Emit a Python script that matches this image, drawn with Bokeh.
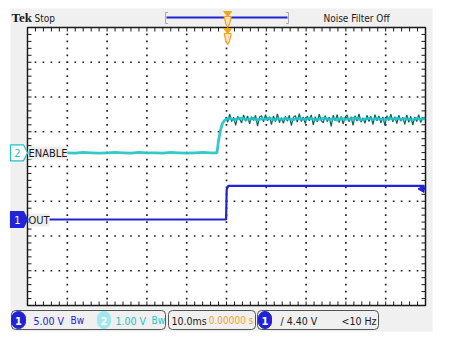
import numpy as np
from bokeh.plotting import figure
from bokeh.models import Range1d, Label, BoxAnnotation
from bokeh.embed import file_html
from bokeh.resources import INLINE

# ---------------- data ----------------
time_per_div_ms = 10.0
ch1_volts_per_div = 5.0
ch2_volts_per_div = 1.0
trigger_level_v = 4.40
trigger_time_ms = 0.3

# ENABLE (CH2) low level before the edge
enable_lo_t = [-50, -48, -46, -44, -42, -40, -38, -36, -34, -32, -30, -28,
               -26, -24, -22, -20, -18, -16, -14, -12, -10, -8, -6, -4]
enable_lo_v = [0.00, 0.01, -0.01, 0.00, 0.01, 0.00, -0.01, 0.01, 0.00, -0.01, 0.00, 0.01,
               0.00, -0.01, 0.01, 0.00, 0.00, -0.01, 0.01, 0.00, -0.01, 0.00, 0.01, 0.00]
# rising edge
enable_rise_t = [-2.4, -2.0, -1.5, -1.0, -0.5, -0.2]
enable_rise_v = [0.00, 0.35, 0.66, 0.85, 0.93, 0.96]
# high level, bright band (1 ms samples from -0.2 ms)
enable_band_v = [0.96, 0.99, 0.95, 0.98, 1.00, 0.96, 0.97, 0.99, 0.94, 0.98,
                 0.97, 1.00, 0.95, 0.98, 0.96, 0.99, 0.97, 0.95, 0.99, 0.98,
                 0.96, 1.00, 0.97, 0.95, 0.98, 0.99, 0.96, 0.98, 0.94, 0.99,
                 0.97, 0.96, 1.00, 0.98, 0.95, 0.97, 0.99, 0.96, 0.98, 0.97,
                 0.95, 0.99, 0.97, 1.00, 0.96, 0.98, 0.97, 0.95, 0.99, 0.97, 0.98]
# high level, noise spikes (0.5 ms samples from -0.2 ms)
enable_noise_v = [1.03, 0.88, 1.11, 0.90, 1.02, 0.79, 1.05, 0.97, 0.86, 1.09,
                  0.91, 1.06, 0.83, 1.04, 0.93, 1.08, 0.77, 1.03, 1.07, 0.89,
                  1.10, 0.92, 1.04, 0.81, 1.06, 0.90, 1.12, 0.87, 1.01, 0.85,
                  1.05, 0.91, 1.08, 0.78, 1.02, 1.07, 0.88, 1.13, 0.90, 1.03,
                  0.84, 1.06, 0.92, 1.09, 0.80, 1.04, 0.89, 1.11, 0.93, 0.86,
                  1.07, 0.90, 1.03, 0.76, 1.08, 0.92, 1.10, 0.87, 1.05, 0.83,
                  1.02, 1.09, 0.89, 1.04, 0.79, 1.07, 0.91, 1.12, 0.88, 1.01,
                  0.85, 1.08, 0.90, 1.05, 0.81, 1.10, 0.92, 1.06, 0.86, 1.03,
                  0.78, 1.07, 0.93, 1.11, 0.89, 1.04, 0.84, 1.08, 0.91, 1.02,
                  0.82, 1.09, 0.88, 1.05, 0.80, 1.03, 0.90, 1.10, 0.87, 1.01, 0.96]
# OUT (CH1)
out_t = [-50.0, -0.1, 0.05, 0.45, 49.7]
out_v = [0.0, 0.0, 4.30, 4.85, 4.85]

status_ch1 = "5.00 V"
status_ch2 = "1.00 V"
status_time = "10.0ms"
status_delay = "0.00000 s"
status_trig = "/ 4.40 V"
status_freq = "<10 Hz"

# ---------------- geometry ----------------
W, H = 459, 354
GL, GR, GT, GB = 27, 425, 27, 305
XC = (GL + GR) / 2.0
PXMS = (GR - GL) / (10 * time_per_div_ms)
YC = (GT + GB) / 2.0
PXDIV = (GB - GT) / 8.0


def X(px):
    return (px - XC) / PXMS


def Y(py):
    return (YC - py) / PXDIV


ch1_pos = Y(219)
ch2_pos = Y(152.3)


def ch1(vs):
    return [v / ch1_volts_per_div + ch1_pos for v in vs]


def ch2(vs):
    return [v / ch2_volts_per_div + ch2_pos for v in vs]


NARROW = "DejaVu Sans Condensed"
BLUE = "#2222d6"
CYAN = "#1fc3c6"
DARKTEAL = "#0a5f60"
ORANGE = "#f5a21e"
GRAY = "#f0f0f0"
INK = "#1a1a1a"

p = figure(width=W, height=H, x_range=Range1d(X(0), X(W)), y_range=Range1d(Y(H), Y(0)),
           x_axis_location=None, y_axis_location=None, toolbar_location=None,
           output_backend="svg", min_border=0, outline_line_color=None,
           background_fill_color="white", border_fill_color="white")
p.xgrid.visible = False
p.ygrid.visible = False

# screen backgrounds
p.quad(left=X(10), right=X(432), top=Y(8), bottom=Y(331), fill_color=GRAY, line_color=None)
p.quad(left=-50, right=50, top=4, bottom=-4, fill_color="white", line_color=None)

# graticule dots
dx, dy = [], []
for gx in range(-40, 41, 10):
    for k in range(1, 40):
        dx.append(gx)
        dy.append(-4 + 0.2 * k)
for gy in range(-3, 4):
    for k in range(1, 50):
        dx.append(-50 + 2 * k)
        dy.append(gy)
p.scatter(dx, dy, marker="square", size=1.7, fill_color="#222222", line_color=None)

# border ticks
tlx = 4 / PXMS
tly = 4 / PXDIV
x0s, y0s, x1s, y1s = [], [], [], []
for k in range(1, 50):
    xx = -50 + 2 * k
    x0s += [xx, xx]; x1s += [xx, xx]
    y0s += [4, -4]; y1s += [4 - tly, -4 + tly]
for k in range(1, 40):
    yy = -4 + 0.2 * k
    x0s += [-50, 50]; x1s += [-50 + tlx, 50 - tlx]
    y0s += [yy, yy]; y1s += [yy, yy]
p.segment(x0s, y0s, x1s, y1s, line_color=INK, line_width=1)
p.quad(left=-50, right=50, top=4, bottom=-4, fill_color=None, line_color=INK, line_width=1.5)

# ---------------- traces ----------------
noise_t = [-0.2 + 0.5 * i for i in range(len(enable_noise_v))]
band_t = [-0.2 + 1.0 * i for i in range(len(enable_band_v))]
p.line(noise_t, ch2(enable_noise_v), line_color=DARKTEAL, line_width=1.2)
p.line(enable_lo_t + enable_rise_t + band_t,
       ch2(enable_lo_v + enable_rise_v + enable_band_v),
       line_color=CYAN, line_width=2.8, line_alpha=0.9)
p.line(out_t, ch1(out_v), line_color=BLUE, line_width=2.2)

# trigger level marker (right edge)
tl_y = trigger_level_v / ch1_volts_per_div + ch1_pos
p.segment([X(421)], [tl_y], [X(425)], [tl_y], line_color=BLUE, line_width=2)
p.scatter([X(421.5)], [tl_y], marker="triangle", angle=np.pi / 2, size=7,
          fill_color=BLUE, line_color=BLUE)


# trigger position markers (orange)
def trig_marker(ytop):
    xm = trigger_time_ms * PXMS + XC
    p.patch([X(xm - 4), X(xm + 4), X(xm)], [Y(ytop), Y(ytop), Y(ytop + 5)],
            fill_color=ORANGE, line_color=ORANGE)
    p.patch([X(xm - 3.5), X(xm + 3.5), X(xm + 2), X(xm), X(xm - 2)],
            [Y(ytop + 5), Y(ytop + 5), Y(ytop + 12), Y(ytop + 16), Y(ytop + 12)],
            fill_color="#fbe2bd", line_color=ORANGE, line_width=1.2)


trig_marker(28)

# header: record position bar
p.segment([X(166)], [Y(17)], [X(287)], [Y(17)], line_color=BLUE, line_width=2)
p.multi_line([[X(167.5), X(165), X(165), X(167.5)], [X(285.5), X(288), X(288), X(285.5)]],
             [[Y(12), Y(12), Y(23), Y(23)], [Y(12), Y(12), Y(23), Y(23)]],
             line_color="#aaaaaa", line_width=1)
trig_marker(11)


# channel ground markers (left)
def pent(pos, fill, line):
    ym = YC - pos * PXDIV
    p.patch([X(10), X(23), X(27), X(23), X(10)],
            [Y(ym - 8), Y(ym - 8), Y(ym), Y(ym + 8), Y(ym + 8)],
            fill_color=fill, line_color=line, line_width=1.2)


pent(ch2_pos, "white", CYAN)
pent(ch1_pos, BLUE, BLUE)

# status bar boxes
for l, r in [(11, 165), (168, 255), (257, 378)]:
    p.add_layout(BoxAnnotation(left=X(l), right=X(r), top=Y(310), bottom=Y(329),
                               fill_color=GRAY, fill_alpha=1, line_color="#555555",
                               line_alpha=1, line_width=1, border_radius=4))
# badges
for l, r, c in [(11, 25, BLUE), (97, 110, "#9fe9ee"), (258, 271, BLUE)]:
    p.add_layout(BoxAnnotation(left=X(l), right=X(r), top=Y(311), bottom=Y(328),
                               fill_color=c, fill_alpha=1, line_color=c, line_alpha=1,
                               border_radius=7))


def lab(px, py, text, color=INK, size="11px", align="left", font=NARROW, style="normal", bg=None):
    p.add_layout(Label(x=X(px), y=Y(py), text=text, text_color=color, text_font=font,
                       text_font_size=size, text_align=align, text_baseline="middle",
                       text_font_style=style, background_fill_color=bg))


# left channel labels
lab(28, 152.5, "ENABLE", size="11px", bg="#eeeeee")
lab(28, 219.5, "OUT", size="11px", bg="#eeeeee")
lab(17, 152.5, "2", color=CYAN, align="center", size="11px")
lab(17, 219.5, "1", color="white", align="center", size="11px")

# header texts
lab(11, 17, "Tek", size="13px", font="Liberation Serif", style="bold")
lab(34, 18, "Stop", size="10px")
lab(356, 18, "Noise Filter Off", size="10px", align="center")

# status texts
lab(18, 320, "1", color="white", align="center", size="11px", style="bold")
lab(33, 320, status_ch1, color=BLUE, size="10.5px")
lab(70, 320, "Bw", color=BLUE, size="10px")
lab(103.5, 320, "2", color="white", align="center", size="11px", style="bold")
lab(115, 320, status_ch2, color=CYAN, size="10.5px")
lab(151, 320, "Bw", color=CYAN, size="10px")
lab(171, 320, status_time, size="10.5px")
lab(253, 320, status_delay, color=ORANGE, align="right", size="10px")
lab(264.5, 320, "1", color="white", align="center", size="11px", style="bold")
lab(280, 320, status_trig, size="10.5px")
lab(376, 320, status_freq, align="right", size="10.5px")

open("out.html", "w").write(file_html(p, INLINE))
